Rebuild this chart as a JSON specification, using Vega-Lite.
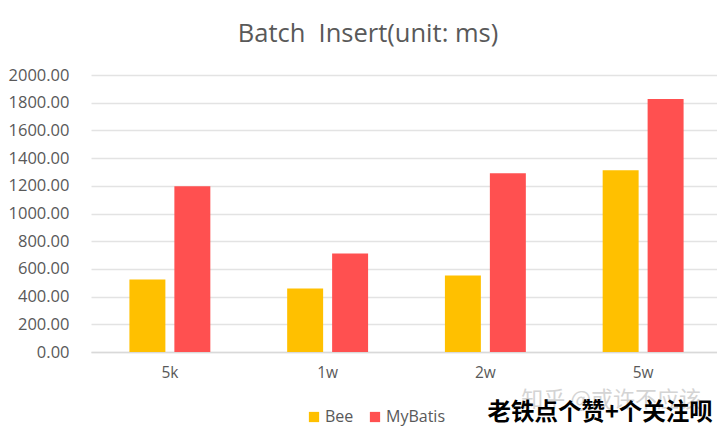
{
  "$schema": "https://vega.github.io/schema/vega-lite/v6.json",
  "background": "white",
  "autosize": "none",
  "padding": {"left": 91, "top": 75, "right": 0, "bottom": 79},
  "width": 626,
  "height": 277,
  "title": {
    "text": "Batch \u00a0Insert(unit: ms)",
    "fontSize": 25.5,
    "font": "Open Sans",
    "fontWeight": "normal",
    "color": "#595959",
    "anchor": "middle",
    "dx": -36,
    "offset": 20
  },
  "config": {"view": {"stroke": null}, "axisQuantitative": {"labelOverlap": false}},
  "data": {
    "values": [
      {"size": "5k", "tool": "Bee", "ms": 524},
      {"size": "5k", "tool": "MyBatis", "ms": 1197},
      {"size": "1w", "tool": "Bee", "ms": 459},
      {"size": "1w", "tool": "MyBatis", "ms": 712},
      {"size": "2w", "tool": "Bee", "ms": 553},
      {"size": "2w", "tool": "MyBatis", "ms": 1291},
      {"size": "5w", "tool": "Bee", "ms": 1313},
      {"size": "5w", "tool": "MyBatis", "ms": 1826}
    ]
  },
  "layer": [
    {
      "mark": {"type": "bar"},
      "encoding": {
        "x": {
          "field": "size",
          "type": "nominal",
          "sort": ["5k", "1w", "2w", "5w"],
          "title": null,
          "scale": {"range": [0, 631], "paddingInner": 0.487, "paddingOuter": 0.2435},
          "axis": {
            "labelAngle": 0,
            "labelFont": "Open Sans",
            "labelFontSize": 15.5,
            "labelColor": "#595959",
            "labelPadding": 13,
            "ticks": false,
            "domainColor": "#d9d9d9",
            "domainWidth": 1.5
          }
        },
        "xOffset": {
          "field": "tool",
          "type": "nominal",
          "scale": {"paddingInner": 0.2}
        },
        "y": {
          "field": "ms",
          "type": "quantitative",
          "title": null,
          "scale": {"domain": [0, 2000], "nice": false},
          "axis": {
            "values": [0, 200, 400, 600, 800, 1000, 1200, 1400, 1600, 1800, 2000],
            "tickCount": 11,
            "format": ".2f",
            "labelFont": "Open Sans",
            "labelFontSize": 16.5,
            "labelColor": "#595959",
            "labelPadding": 22,
            "labelOverlap": false,
            "ticks": false,
            "domain": false,
            "gridColor": "#e3e3e3",
            "gridWidth": 1.5
          }
        },
        "color": {
          "field": "tool",
          "type": "nominal",
          "title": null,
          "scale": {"domain": ["Bee", "MyBatis"], "range": ["#FFC000", "#FF5050"]},
          "legend": {
            "orient": "none",
            "legendX": 215,
            "legendY": 334,
            "direction": "horizontal",
            "symbolType": "square",
            "symbolSize": 105,
            "symbolStrokeWidth": 0,
            "labelFont": "Open Sans",
            "labelFontSize": 16,
            "labelColor": "#595959",
            "labelOffset": 3,
            "columnPadding": 13
          }
        }
      }
    },
    {
      "data": {"values": [{"size": "5w", "note": "知乎 @或许不应该"}]},
      "mark": {
        "type": "text",
        "font": "Noto Sans CJK SC",
        "fontSize": 22,
        "color": "#d4d4d4",
        "align": "center",
        "dx": -32,
        "dy": 48
      },
      "encoding": {
        "x": {"field": "size", "type": "nominal", "sort": ["5k", "1w", "2w", "5w"]},
        "y": {
          "datum": 0,
          "axis": {
            "values": [0, 200, 400, 600, 800, 1000, 1200, 1400, 1600, 1800, 2000],
            "tickCount": 11,
            "labelOverlap": false
          }
        },
        "text": {"field": "note"}
      }
    },
    {
      "data": {"values": [{"size": "5w", "note": "老铁点个赞+个关注呗"}]},
      "mark": {
        "type": "text",
        "font": "Noto Sans CJK SC",
        "fontSize": 23.5,
        "fontWeight": "bold",
        "color": "#000000",
        "align": "center",
        "dx": -43,
        "dy": 61
      },
      "encoding": {
        "x": {"field": "size", "type": "nominal", "sort": ["5k", "1w", "2w", "5w"]},
        "y": {
          "datum": 0,
          "axis": {
            "values": [0, 200, 400, 600, 800, 1000, 1200, 1400, 1600, 1800, 2000],
            "tickCount": 11,
            "labelOverlap": false
          }
        },
        "text": {"field": "note"}
      }
    }
  ]
}
